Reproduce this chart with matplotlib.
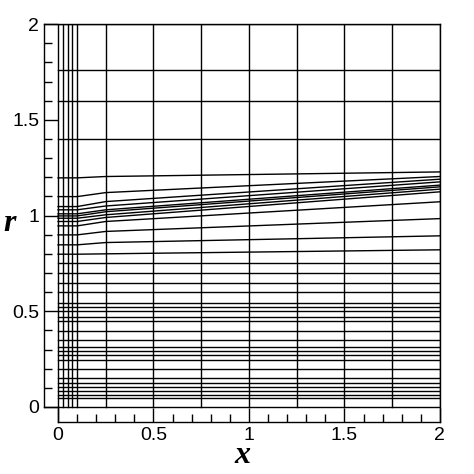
import matplotlib
matplotlib.use("Agg")
import matplotlib.pyplot as plt
import numpy as np
from matplotlib.ticker import MultipleLocator

# vertical mesh lines (x positions)
x_lines = [0, 0.025, 0.05, 0.075, 0.1, 0.25, 0.5, 0.75, 1.0, 1.25, 1.5, 1.75, 2.0]
# bent mesh lines: value for x<=0.1, at x=0.25, at x=2
bent_left = [1.197, 1.099, 1.047, 1.030, 1.009, 0.998, 0.986, 0.969, 0.946, 0.899, 0.847, 0.798]
bent_mid = [1.204, 1.120, 1.073, 1.050, 1.030, 1.020, 1.004, 0.990, 0.969, 0.917, 0.859, 0.800]
bent_right = [1.228, 1.204, 1.190, 1.176, 1.159, 1.150, 1.138, 1.124, 1.072, 0.984, 0.894, 0.821]
# flat mesh lines
flat_y = [2.0, 1.76, 1.6, 1.4, 0.751, 0.699, 0.646, 0.598, 0.545, 0.524, 0.500, 0.472, 0.451,
          0.396, 0.350, 0.315, 0.294, 0.270, 0.246, 0.200, 0.152, 0.124, 0.103, 0.082,
          0.064, 0.047, 0.0]

fig = plt.figure(figsize=(4.74, 4.74), dpi=100)
ax = fig.add_axes([0.093, 0.110, 0.835, 0.839])
lw = 1.0
for xv in x_lines:
    ax.plot([xv, xv], [0, 2], color='black', lw=lw)
for y in flat_y:
    ax.plot([0, 2], [y, y], color='black', lw=lw)
for a, b, c in zip(bent_left, bent_mid, bent_right):
    ax.plot([0, 0.1, 0.25, 2], [a, a, b, c], color='black', lw=lw)

ax.set_xlim(-0.073, 2.0)
ax.set_ylim(-0.078, 2.0)
ax.spines['left'].set_bounds(0, 2)
ax.spines['bottom'].set_bounds(0, 2)
ax.spines['top'].set_bounds(-0.073, 2)
for s in ax.spines.values():
    s.set_linewidth(1.0)
ax.plot([-0.073, 0], [0, 0], color='black', lw=lw, clip_on=False)
ax.plot([0, 0], [-0.078, 0], color='black', lw=lw, clip_on=False)

ax.xaxis.set_major_locator(MultipleLocator(0.5))
ax.xaxis.set_minor_locator(MultipleLocator(0.1))
ax.yaxis.set_major_locator(MultipleLocator(0.5))
ax.yaxis.set_minor_locator(MultipleLocator(0.1))
ax.tick_params(which='both', direction='in', top=False, right=False, width=1.0, labelsize=14)
ax.tick_params(which='major', length=10)
ax.tick_params(which='minor', length=6)
ax.set_xticks([0, 0.5, 1, 1.5, 2])
ax.set_xticklabels(['0', '0.5', '1', '1.5', '2'], family='Liberation Sans')
ax.set_yticks([0, 0.5, 1, 1.5, 2])
ax.set_yticklabels(['0', '0.5', '1', '1.5', '2'], family='Liberation Sans')
ax.set_xlabel('x', fontsize=23, fontweight='bold', fontstyle='italic', family='Liberation Serif', labelpad=-2)
ax.set_ylabel('r', fontsize=23, fontweight='bold', fontstyle='italic', family='Liberation Serif',
              rotation=0, labelpad=2, va='center')
fig.savefig('out.png', dpi=100)
